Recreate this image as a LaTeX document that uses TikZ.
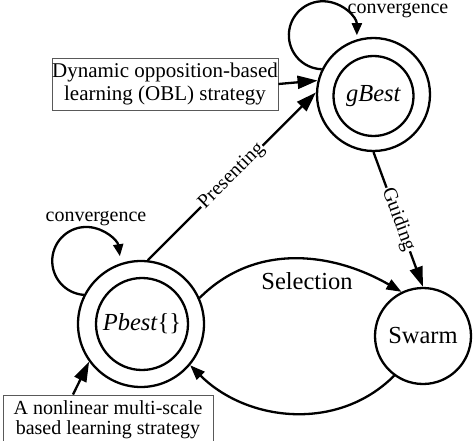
\documentclass[tikz,border=0pt]{standalone}
\usepackage{fontspec}
\setmainfont{Liberation Serif}
\usetikzlibrary{arrows.meta}
\begin{document}
\begin{tikzpicture}[x=1pt,y=1pt,
  ring/.style={circle,draw,line width=2.3pt,inner sep=0pt},
  bigtxt/.style={font=\fontsize{24.5}{28}\selectfont},
  smalltxt/.style={font=\fontsize{20}{24}\selectfont},
  strat/.style={draw=gray!70!black,line width=0.9pt,align=center,inner sep=0pt},
  bigarrow/.style={line width=2.3pt,-{Triangle[length=20pt,width=13pt]}},
  midarrow/.style={line width=2.3pt,-{Triangle[length=15pt,width=11pt]}},
  looparrow/.style={line width=2.3pt,-{Triangle[length=12pt,width=10pt]}},
  lbl/.style={font=\fontsize{20}{24}\selectfont,fill=white,inner sep=1pt,sloped}
]
\useasboundingbox (0,0) rectangle (474,-441);
% states
\node[ring,minimum size=113pt] (gOut) at (373.5,-94.5) {};
\node[ring,minimum size=80pt,bigtxt] (gIn) at (373.5,-96) {\textit{gBest}};
\node[ring,minimum size=126pt] (pOut) at (141,-324) {};
\node[ring,minimum size=92pt,bigtxt] (pIn) at (142,-324) {\textit{Pbest}\{\}};
\node[ring,minimum size=96pt,bigtxt] (sw) at (423,-336) {Swarm};
% strategy boxes
\node[strat,minimum width=226pt,minimum height=52pt,
  font=\fontsize{21}{22.5}\selectfont] (obl) at (165,-84)
  {Dynamic opposition-based\\learning (OBL) strategy};
\node[strat,minimum width=210pt,minimum height=50pt,
  font=\fontsize{20}{20}\selectfont] (nl) at (108,-420)
  {A nonlinear multi-scale\\based learning strategy};
% labels
\node[smalltxt,anchor=base] (cg) at (398,-14) {convergence};
\node[smalltxt,anchor=base] (cp) at (96,-221) {convergence};
\node[bigtxt,anchor=base] (sel) at (307,-289) {Selection};
% connectors
\draw[bigarrow] (obl.east) -- (gOut.166);
\draw[bigarrow] ([xshift=-35pt]nl.north) -- (pOut.216);
\draw[bigarrow] (pOut.84) -- node[lbl] {Presenting} (gOut.178);
\draw[bigarrow] (gOut.270) -- node[lbl] {Guiding} (sw.90);
\draw[midarrow] (pOut.24) to[out=45,in=150] (sw.116);
\draw[midarrow] (sw.234) to[out=225,in=-45] (pOut.320);
\draw[looparrow] (gOut.154) arc[start angle=268,end angle=0,radius=34];
\draw[looparrow] (pOut.153) arc[start angle=266,end angle=8,radius=34];
\end{tikzpicture}
\end{document}
